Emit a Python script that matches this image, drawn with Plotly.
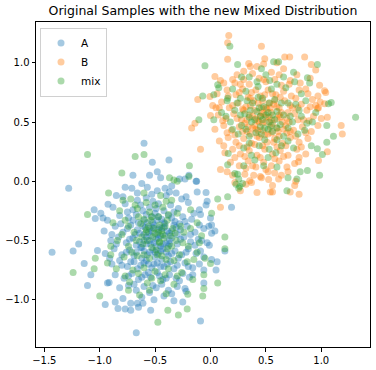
import plotly.graph_objects as go

# ---- data ----
a_points = [
    # outliers / edge
    (-0.60, 0.32), (-0.525, 0.16), (-0.48, 0.08), (-1.28, -0.06), (-0.925, -0.195), (-1.05, -0.24),
    (-0.99, -0.27), (-1.04, -0.315), (-0.97, -0.31), (-0.70, 0.05), (-0.77, -0.05), (-0.79, -0.13),
    (-1.43, -0.60), (-1.24, -0.59), (-1.19, -0.53), (-1.14, -0.695), (-1.08, -0.79), (-1.02, -0.585),
    (-1.11, -0.88), (-0.95, -1.04), (-0.93, -0.86), (-0.915, -0.855), (-0.835, -1.075), (-0.77, -1.08),
    (-0.72, -1.09), (-0.72, -1.03), (-0.66, -1.03), (-0.65, -1.065), (-0.61, -1.03), (-0.67, -1.28),
    (-0.54, -1.09), (0.13, -0.59), (0.01, -0.44), (-0.01, -0.54), (-0.08, -0.50), (0.06, -0.68),
    (0.01, -0.66), (0.05, -0.75), (-0.06, -0.75), (-0.06, -0.86), (-0.09, -1.18), (-0.25, -1.02),
    (-0.23, -0.905), (0.01, -0.37), (-0.015, -0.38), (-0.375, 0.18), (-0.13, 0.0), (-0.03, -0.17),
    (-0.23, 0.02), (-0.195, 0.05), (-0.125, 0.0), (-0.04, -0.095), (0.19, -0.22),
    # core
    (-0.62, -0.02), (-0.45, 0.03), (-0.35, -0.04), (-0.55, 0.05), (-0.28, 0.02), (-0.71, -0.06),
    (-0.85, -0.12), (-0.66, -0.10), (-0.58, -0.14), (-0.48, -0.08), (-0.40, -0.12), (-0.31, -0.10),
    (-0.22, -0.13), (-0.12, -0.09), (-0.52, -0.17),
    (-0.88, -0.22), (-0.77, -0.19), (-0.70, -0.24), (-0.63, -0.20), (-0.55, -0.22), (-0.47, -0.19),
    (-0.42, -0.25), (-0.36, -0.20), (-0.29, -0.23), (-0.20, -0.18), (-0.10, -0.24), (-0.04, -0.20),
    (-0.93, -0.33), (-0.82, -0.29), (-0.74, -0.31), (-0.67, -0.28), (-0.60, -0.33), (-0.53, -0.30),
    (-0.50, -0.27), (-0.44, -0.32), (-0.38, -0.29), (-0.32, -0.34), (-0.25, -0.30), (-0.17, -0.32),
    (-0.09, -0.28), (0.00, -0.31),
    (-0.96, -0.42), (-0.86, -0.38), (-0.79, -0.43), (-0.72, -0.37), (-0.66, -0.41), (-0.61, -0.38),
    (-0.56, -0.43), (-0.51, -0.37), (-0.47, -0.41), (-0.42, -0.39), (-0.37, -0.44), (-0.33, -0.37),
    (-0.27, -0.41), (-0.21, -0.38), (-0.14, -0.43), (-0.06, -0.40), (0.04, -0.42),
    (-0.90, -0.50), (-0.83, -0.47), (-0.76, -0.52), (-0.70, -0.48), (-0.64, -0.51), (-0.58, -0.47),
    (-0.54, -0.53), (-0.49, -0.49), (-0.45, -0.46), (-0.40, -0.52), (-0.35, -0.48), (-0.30, -0.53),
    (-0.24, -0.47), (-0.18, -0.51), (-0.11, -0.49), (-0.03, -0.52),
    (-0.95, -0.61), (-0.87, -0.57), (-0.80, -0.62), (-0.73, -0.58), (-0.67, -0.60), (-0.62, -0.56),
    (-0.57, -0.62), (-0.52, -0.58), (-0.47, -0.61), (-0.43, -0.57), (-0.38, -0.63), (-0.32, -0.59),
    (-0.26, -0.62), (-0.20, -0.57), (-0.13, -0.61), (-0.06, -0.64),
    (-0.89, -0.70), (-0.82, -0.67), (-0.75, -0.72), (-0.69, -0.68), (-0.63, -0.71), (-0.58, -0.67),
    (-0.53, -0.73), (-0.48, -0.69), (-0.42, -0.72), (-0.36, -0.68), (-0.30, -0.71), (-0.23, -0.69),
    (-0.16, -0.73), (-0.10, -0.70),
    (-0.86, -0.79), (-0.78, -0.82), (-0.71, -0.78), (-0.65, -0.83), (-0.59, -0.79), (-0.54, -0.81),
    (-0.48, -0.77), (-0.43, -0.83), (-0.37, -0.79), (-0.31, -0.82), (-0.25, -0.78), (-0.19, -0.81),
    (-0.82, -0.90), (-0.74, -0.88), (-0.67, -0.92), (-0.60, -0.89), (-0.55, -0.94), (-0.49, -0.90),
    (-0.44, -0.87), (-0.38, -0.92), (-0.30, -0.89), (-0.22, -0.93),
    (-0.79, -0.99), (-0.62, -0.98), (-0.51, -1.00), (-0.42, -0.97), (-0.33, -1.01), (-0.86, -1.02),
    (-0.55, -0.40), (-0.48, -0.45), (-0.60, -0.45), (-0.42, -0.35), (-0.52, -0.35), (-0.58, -0.28),
    (-0.45, -0.55), (-0.35, -0.42), (-0.65, -0.35), (-0.50, -0.60), (-0.40, -0.60), (-0.62, -0.65),
    (-0.30, -0.45), (-0.55, -0.50), (-0.47, -0.30), (-0.68, -0.45), (-0.38, -0.55), (-0.56, -0.70),
    (-0.44, -0.66), (-0.28, -0.36),
    (-0.57, -0.05), (-0.41, -0.06), (-0.66, -0.16), (-0.53, -0.11), (-0.37, -0.09), (-0.26, -0.15),
    (-0.75, -0.26), (-0.61, -0.25), (-0.49, -0.23), (-0.33, -0.26), (-0.15, -0.27), (-0.81, -0.36),
    (-0.70, -0.33), (-0.57, -0.35), (-0.48, -0.33), (-0.41, -0.36), (-0.35, -0.31), (-0.23, -0.34),
    (-0.89, -0.45), (-0.75, -0.40), (-0.64, -0.44), (-0.59, -0.39), (-0.53, -0.42), (-0.46, -0.39),
    (-0.39, -0.42), (-0.31, -0.39), (-0.18, -0.45), (-0.10, -0.37), (-0.85, -0.53), (-0.73, -0.49),
    (-0.67, -0.54), (-0.60, -0.50), (-0.51, -0.52), (-0.47, -0.48), (-0.43, -0.53), (-0.37, -0.50),
    (-0.27, -0.49), (-0.14, -0.54), (-0.91, -0.65), (-0.76, -0.60), (-0.69, -0.63), (-0.60, -0.59),
    (-0.55, -0.60), (-0.50, -0.64), (-0.45, -0.59), (-0.35, -0.61), (-0.29, -0.65), (-0.22, -0.60),
    (-0.09, -0.59), (-0.80, -0.71), (-0.72, -0.68), (-0.66, -0.74), (-0.60, -0.69), (-0.51, -0.70),
    (-0.45, -0.72), (-0.39, -0.70), (-0.33, -0.74), (-0.20, -0.72), (-0.74, -0.80), (-0.62, -0.81),
    (-0.56, -0.77), (-0.46, -0.80), (-0.40, -0.82), (-0.28, -0.84), (-0.16, -0.79), (-0.69, -0.87),
    (-0.52, -0.88), (-0.35, -0.95), (-0.63, -0.56), (-0.41, -0.46), (-0.54, -0.46), (-0.49, -0.55),
    (-0.58, -0.53), (-0.44, -0.40), (-0.52, -0.39), (-0.37, -0.53),
]

b_points = [
    # outliers / edge
    (0.165, 1.23), (0.155, 1.17), (0.46, 1.14), (0.155, 1.03), (0.345, 0.995), (0.36, 0.97),
    (0.49, 1.035), (0.48, 0.99), (0.04, 0.885), (0.09, 0.85), (-0.115, 0.69), (-0.005, 0.715),
    (0.00, 0.555), (0.05, 0.62), (0.22, 0.83), (0.30, 0.86), (0.67, 1.05), (0.715, 1.05),
    (0.85, 1.05), (0.91, 0.985), (0.95, 0.94), (0.985, 0.81), (1.03, 0.765), (1.04, 0.75),
    (0.92, 0.69), (1.03, 0.655), (1.055, 0.54), (0.975, 0.62), (0.965, 0.615), (1.18, 0.47),
    (1.19, 0.40), (1.055, 0.25), (0.975, 0.175), (0.80, -0.11), (0.72, -0.09), (0.77, 0.00),
    (0.76, -0.035), (0.56, -0.09), (0.56, -0.035), (0.615, 0.02), (0.795, 0.165), (-0.17, 0.45),
    (-0.14, 0.49), (-0.09, 0.27), (0.09, 0.10), (0.42, -0.095), (0.54, -0.09), (0.32, 0.11),
    (0.39, 0.05), (0.355, 0.005), (0.37, -0.01), (0.525, 0.015), (0.46, 0.03), (0.09, -0.22),
    (0.15, 0.08), (0.20, 0.05), (0.27, -0.08), (0.22, -0.01), (0.32, -0.025),
    # core
    (0.30, 0.93), (0.42, 0.97), (0.55, 0.92), (0.66, 0.95), (0.78, 0.90), (0.24, 0.90), (0.60, 1.00),
    (0.12, 0.83), (0.20, 0.86), (0.35, 0.82), (0.44, 0.87), (0.50, 0.84), (0.58, 0.86), (0.64, 0.81),
    (0.72, 0.85), (0.81, 0.83), (0.90, 0.87),
    (0.06, 0.74), (0.15, 0.77), (0.23, 0.73), (0.29, 0.78), (0.37, 0.75), (0.45, 0.72), (0.52, 0.77),
    (0.59, 0.73), (0.66, 0.76), (0.73, 0.72), (0.80, 0.77), (0.88, 0.74), (0.97, 0.72),
    (0.02, 0.64), (0.10, 0.67), (0.17, 0.62), (0.25, 0.66), (0.32, 0.63), (0.39, 0.68), (0.46, 0.62),
    (0.53, 0.66), (0.60, 0.63), (0.67, 0.68), (0.74, 0.62), (0.82, 0.65), (0.90, 0.63), (0.99, 0.67),
    (0.07, 0.56), (0.14, 0.53), (0.21, 0.57), (0.28, 0.52), (0.35, 0.56), (0.41, 0.53), (0.48, 0.57),
    (0.55, 0.52), (0.62, 0.56), (0.69, 0.53), (0.76, 0.57), (0.84, 0.52), (0.93, 0.55), (1.00, 0.53),
    (0.04, 0.44), (0.12, 0.47), (0.19, 0.43), (0.26, 0.46), (0.33, 0.42), (0.40, 0.47), (0.47, 0.43),
    (0.54, 0.46), (0.61, 0.42), (0.68, 0.47), (0.75, 0.43), (0.83, 0.46), (0.91, 0.42),
    (0.08, 0.34), (0.16, 0.37), (0.23, 0.33), (0.30, 0.36), (0.37, 0.32), (0.44, 0.37), (0.51, 0.33),
    (0.58, 0.36), (0.65, 0.32), (0.72, 0.37), (0.80, 0.33), (0.88, 0.36),
    (0.13, 0.24), (0.20, 0.27), (0.27, 0.23), (0.35, 0.26), (0.42, 0.22), (0.49, 0.27), (0.56, 0.23),
    (0.63, 0.26), (0.70, 0.22), (0.78, 0.27), (0.86, 0.23),
    (0.18, 0.16), (0.26, 0.13), (0.34, 0.17), (0.41, 0.12), (0.48, 0.16), (0.55, 0.13), (0.62, 0.17),
    (0.69, 0.12), (0.76, 0.15),
    (0.31, 0.06), (0.45, 0.04), (0.52, 0.08), (0.64, 0.05), (0.70, 0.08),
    (0.45, 0.55), (0.50, 0.50), (0.55, 0.58), (0.40, 0.60), (0.60, 0.45), (0.38, 0.45), (0.52, 0.40),
    (0.47, 0.68), (0.62, 0.62), (0.33, 0.52), (0.57, 0.33), (0.42, 0.38), (0.70, 0.58), (0.30, 0.60),
    (0.65, 0.50), (0.50, 0.62), (0.44, 0.50), (0.58, 0.68), (0.36, 0.70), (0.72, 0.42),
    (0.38, 0.91), (0.48, 0.86), (0.62, 0.90), (0.71, 0.82), (0.27, 0.82), (0.16, 0.72), (0.26, 0.75),
    (0.34, 0.71), (0.41, 0.77), (0.49, 0.73), (0.56, 0.74), (0.63, 0.71), (0.77, 0.70), (0.86, 0.78),
    (0.08, 0.62), (0.20, 0.64), (0.29, 0.61), (0.36, 0.64), (0.43, 0.66), (0.51, 0.61), (0.57, 0.65),
    (0.64, 0.58), (0.72, 0.64), (0.79, 0.62), (0.87, 0.60), (0.95, 0.64), (0.11, 0.51), (0.24, 0.53),
    (0.31, 0.49), (0.38, 0.55), (0.43, 0.51), (0.50, 0.54), (0.56, 0.49), (0.63, 0.54), (0.71, 0.50),
    (0.79, 0.52), (0.89, 0.51), (0.97, 0.47), (0.15, 0.41), (0.22, 0.39), (0.29, 0.42), (0.36, 0.40),
    (0.43, 0.43), (0.49, 0.39), (0.55, 0.41), (0.62, 0.38), (0.69, 0.41), (0.77, 0.38), (0.86, 0.41),
    (0.12, 0.30), (0.26, 0.30), (0.33, 0.29), (0.40, 0.31), (0.47, 0.30), (0.60, 0.29), (0.68, 0.30),
    (0.82, 0.29), (0.22, 0.20), (0.31, 0.21), (0.45, 0.20), (0.58, 0.19), (0.66, 0.21), (0.80, 0.20),
    (0.38, 0.13), (0.50, 0.10), (0.58, 0.07), (0.46, 0.58), (0.53, 0.54), (0.41, 0.44), (0.60, 0.53),
    (0.54, 0.62), (0.47, 0.49), (0.66, 0.44), (0.34, 0.46),
]

mix_points = [
    # near A: outliers / edge
    (-1.11, 0.225), (-0.68, 0.21), (-0.60, 0.225), (-0.80, 0.07), (-0.92, -0.10), (-1.11, -0.28),
    (-1.24, -0.77), (-1.05, -0.74), (-1.04, -0.65), (-1.00, -0.97), (-0.475, -1.19), (-0.93, -0.69),
    (-0.74, -0.92), (0.13, -0.47), (0.13, -0.57), (0.00, -0.695), (-0.05, -0.65), (0.065, -0.86),
    (-0.06, -0.79), (-0.06, -0.905), (-0.07, -0.97), (-0.21, -1.08), (-0.29, -1.13), (-0.385, -1.09),
    (-0.16, -0.83), (-0.205, -0.955), (-0.19, 0.13), (-0.195, 0.04), (-0.37, 0.03), (-0.33, 0.01),
    (-0.30, 0.00), (0.065, -0.15), (0.155, -0.13), (0.01, -0.27),
    # near A: core
    (-0.72, -0.15), (-0.60, -0.10), (-0.45, -0.12), (-0.35, -0.16), (-0.82, -0.25), (-0.66, -0.23),
    (-0.55, -0.26), (-0.43, -0.22), (-0.30, -0.27), (-0.18, -0.24), (-0.88, -0.35), (-0.77, -0.33),
    (-0.63, -0.36), (-0.54, -0.33), (-0.46, -0.37), (-0.39, -0.33), (-0.27, -0.38), (-0.12, -0.35),
    (-0.80, -0.45), (-0.69, -0.43), (-0.58, -0.41), (-0.50, -0.44), (-0.44, -0.42), (-0.36, -0.46),
    (-0.24, -0.43), (-0.08, -0.46), (-0.90, -0.55), (-0.74, -0.55), (-0.61, -0.53), (-0.53, -0.56),
    (-0.46, -0.51), (-0.39, -0.57), (-0.31, -0.50), (-0.20, -0.55), (-0.78, -0.64), (-0.66, -0.63),
    (-0.55, -0.65), (-0.48, -0.62), (-0.40, -0.66), (-0.28, -0.62), (-0.15, -0.66), (-0.85, -0.74),
    (-0.70, -0.75), (-0.60, -0.73), (-0.50, -0.76), (-0.38, -0.74), (-0.26, -0.77), (-0.73, -0.85),
    (-0.57, -0.86), (-0.45, -0.84), (-0.33, -0.87), (-0.64, -0.96), (-0.40, -0.95), (-0.52, -0.47),
    (-0.56, -0.38), (-0.47, -0.30), (-0.62, -0.47), (-0.42, -0.48), (-0.34, -0.40), (-0.50, -0.20),
    (-0.65, -0.30),
    (-0.68, -0.20), (-0.58, -0.18), (-0.40, -0.17), (-0.74, -0.38), (-0.60, -0.32), (-0.51, -0.40),
    (-0.43, -0.45), (-0.32, -0.44), (-0.18, -0.40), (-0.84, -0.50), (-0.67, -0.50), (-0.57, -0.50),
    (-0.49, -0.58), (-0.35, -0.55), (-0.25, -0.52), (-0.10, -0.52), (-0.71, -0.60), (-0.60, -0.62),
    (-0.44, -0.63), (-0.33, -0.67), (-0.21, -0.68), (-0.77, -0.80), (-0.65, -0.78), (-0.53, -0.82),
    (-0.41, -0.79), (-0.30, -0.80), (-0.58, -0.43), (-0.47, -0.43), (-0.53, -0.30), (-0.38, -0.28),
    (-0.79, -0.16), (-0.90, -0.62), (-0.12, -0.60), (-0.55, -0.92), (-0.46, -0.52), (-0.41, -0.38),
    # near B: outliers / edge
    (0.175, 1.14), (-0.05, 0.975), (0.245, 0.985), (0.57, 1.01), (0.615, 1.01), (-0.07, 0.72),
    (0.03, 0.73), (0.075, 0.79), (0.065, 0.815), (-0.105, 0.52), (0.03, 0.52), (0.155, 0.70),
    (0.46, 0.95), (0.535, 0.85), (0.965, 0.985), (0.75, 0.92), (0.875, 0.875), (0.895, 0.83),
    (1.09, 0.665), (1.065, 0.655), (1.31, 0.54), (1.11, 0.38), (1.05, 0.33), (1.05, 0.47),
    (1.01, 0.225), (0.965, 0.275), (0.91, 0.30), (0.985, 0.05), (0.875, 0.09), (0.81, 0.08),
    (0.69, -0.08), (0.70, 0.03), (0.78, 0.02), (0.16, 0.235), (0.22, 0.065), (0.255, 0.02),
    (0.265, -0.045), (0.155, 0.14), (0.245, 0.06), (0.23, -0.025), (0.29, -0.02), (0.255, -0.06),
    # near B: core
    (0.35, 0.88), (0.50, 0.90), (0.66, 0.88), (0.20, 0.78), (0.32, 0.76), (0.43, 0.80), (0.55, 0.78),
    (0.68, 0.79), (0.82, 0.74), (0.15, 0.68), (0.27, 0.70), (0.38, 0.66), (0.47, 0.70), (0.58, 0.69),
    (0.70, 0.66), (0.86, 0.68), (0.10, 0.58), (0.22, 0.60), (0.31, 0.57), (0.42, 0.59), (0.50, 0.56),
    (0.60, 0.59), (0.72, 0.55), (0.80, 0.60), (0.95, 0.58), (0.18, 0.50), (0.28, 0.47), (0.37, 0.50),
    (0.45, 0.46), (0.53, 0.50), (0.63, 0.48), (0.74, 0.50), (0.87, 0.49), (0.25, 0.40), (0.35, 0.38),
    (0.46, 0.40), (0.56, 0.42), (0.66, 0.38), (0.79, 0.40), (0.30, 0.28), (0.44, 0.30), (0.53, 0.27),
    (0.64, 0.30), (0.75, 0.28), (0.40, 0.18), (0.52, 0.20), (0.60, 0.12), (0.45, 0.55), (0.48, 0.63),
    (0.40, 0.52), (0.58, 0.52), (0.52, 0.44), (0.36, 0.60),
    (0.28, 0.88), (0.42, 0.84), (0.60, 0.82), (0.76, 0.84), (0.24, 0.66), (0.33, 0.68), (0.43, 0.71),
    (0.53, 0.66), (0.64, 0.66), (0.77, 0.65), (0.14, 0.55), (0.27, 0.56), (0.35, 0.54), (0.47, 0.52),
    (0.56, 0.56), (0.66, 0.56), (0.82, 0.55), (0.20, 0.44), (0.32, 0.44), (0.41, 0.41), (0.49, 0.45),
    (0.60, 0.45), (0.70, 0.45), (0.85, 0.43), (0.35, 0.32), (0.49, 0.35), (0.60, 0.35), (0.70, 0.34),
    (0.37, 0.22), (0.59, 0.24), (0.48, 0.13), (0.30, 0.13), (0.92, 0.50), (0.52, 0.58), (0.44, 0.62),
    (0.55, 0.47),
]

series_names = ["A", "B", "mix"]
series_colors = ["#1f77b4", "#ff7f0e", "#2ca02c"]
x_tick_vals = [-1.5, -1.0, -0.5, 0.0, 0.5, 1.0]
y_tick_vals = [-1.0, -0.5, 0.0, 0.5, 1.0]
title_text = "Original Samples with the new Mixed Distribution"


def fmt(v):
    s = f"{v:.1f}"
    return s.replace("-", "\u2212")


fig = go.Figure()
for name, color, pts in zip(series_names, series_colors, [a_points, b_points, mix_points]):
    fig.add_trace(go.Scatter(
        x=[p[0] for p in pts], y=[p[1] for p in pts], mode="markers", name=name,
        marker=dict(color=color, size=7, opacity=0.4, line=dict(width=0)),
        hoverinfo="skip",
    ))

font_family = "DejaVu Sans"
fig.update_layout(
    width=376, height=370,
    margin=dict(l=36, r=6, t=22, b=23, autoexpand=False),
    paper_bgcolor="white", plot_bgcolor="white",
    font=dict(family=font_family, size=10, color="black"),
    title=dict(text=title_text, x=203 / 376, xref="container", xanchor="center",
               y=1 - 10.5 / 370, yref="container", yanchor="middle",
               font=dict(size=12.5, color="black"), automargin=False),
    showlegend=True,
    hovermode=False,
    legend=dict(x=0.012, y=0.983, xanchor="left", yanchor="top",
                bgcolor="rgba(255,255,255,0.8)", bordercolor="#d0d0d0", borderwidth=1,
                font=dict(size=10.5), itemwidth=30, tracegroupgap=0),
)
axis_style = dict(showgrid=False, zeroline=False, showline=True, linecolor="black", linewidth=1,
                  mirror=True, ticks="outside", ticklen=3.5, tickcolor="black", tickwidth=1,
                  automargin=False, tickfont=dict(size=10, family=font_family, color="black"))
fig.update_xaxes(range=[-1.575, 1.44], tickvals=x_tick_vals, ticktext=[fmt(v) for v in x_tick_vals],
                 **axis_style)
fig.update_yaxes(range=[-1.40, 1.345], tickvals=y_tick_vals, ticktext=[fmt(v) for v in y_tick_vals],
                 **axis_style)

fig.write_html("out.html", config={"displayModeBar": False},
               post_script="document.body.style.margin='0';")
